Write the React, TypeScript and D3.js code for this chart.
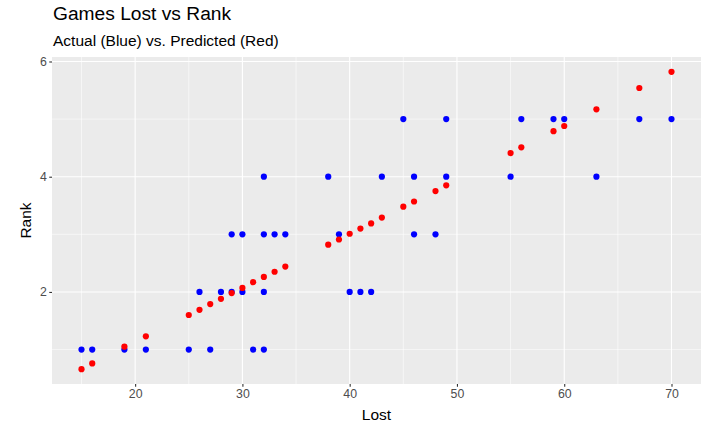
import * as d3 from 'd3';
import { useEffect, useRef } from 'react';

// Actual ranks (blue)
const actualLost = [
  15, 16, 19, 21, 25, 27, 31, 32,
  26, 28, 29, 30, 32, 40, 41, 42,
  29, 30, 32, 33, 34, 39, 46, 48,
  32, 38, 43, 46, 49, 55, 63,
  45, 49, 56, 59, 60, 67, 70,
];
const actualRank = [
  1, 1, 1, 1, 1, 1, 1, 1,
  2, 2, 2, 2, 2, 2, 2, 2,
  3, 3, 3, 3, 3, 3, 3, 3,
  4, 4, 4, 4, 4, 4, 4,
  5, 5, 5, 5, 5, 5, 5,
];

// Predicted ranks (red)
const predictedLost = [
  15, 16, 19, 21, 25, 26, 27, 28, 29, 30, 31, 32, 33, 34, 38, 39, 40, 41, 42, 43,
  45, 46, 48, 49, 55, 56, 59, 60, 63, 67, 70,
];
const predictedRank = [
  0.66, 0.76, 1.05, 1.23, 1.6, 1.69, 1.79, 1.88, 1.98, 2.07, 2.17, 2.26, 2.35, 2.44, 2.82, 2.91,
  3.01, 3.1, 3.19, 3.29, 3.48, 3.57, 3.75, 3.85, 4.41, 4.51, 4.79, 4.88, 5.17, 5.54, 5.82,
];

const xMajor = [20, 30, 40, 50, 60, 70];
const xMinor = [15, 25, 35, 45, 55, 65];
const yMajor = [2, 4, 6];
const yMinor = [1, 3, 5];

const W = 715;
const H = 429;
const margin = { top: 57, right: 14, bottom: 45, left: 52 };
const font = '"Liberation Sans", Arial, sans-serif';

export default function App() {
  const ref = useRef<SVGSVGElement>(null);

  useEffect(() => {
    if (!ref.current) return;
    const svg = d3.select(ref.current);
    svg.selectAll('*').remove();

    const allLost = actualLost.concat(predictedLost);
    const allRank = actualRank.concat(predictedRank);
    const [x0, x1] = d3.extent(allLost) as [number, number];
    const [y0, y1] = d3.extent(allRank) as [number, number];
    const xPad = (x1 - x0) * 0.05;
    const yPad = (y1 - y0) * 0.05;

    const x = d3
      .scaleLinear()
      .domain([x0 - xPad, x1 + xPad])
      .range([margin.left, W - margin.right]);
    const y = d3
      .scaleLinear()
      .domain([y0 - yPad, y1 + yPad])
      .range([H - margin.bottom, margin.top]);

    // panel background
    svg
      .append('rect')
      .attr('x', margin.left)
      .attr('y', margin.top)
      .attr('width', W - margin.left - margin.right)
      .attr('height', H - margin.top - margin.bottom)
      .attr('fill', '#EBEBEB');

    const grid = svg.append('g').attr('stroke', '#fff').attr('fill', 'none');
    grid
      .append('g')
      .selectAll('line')
      .data(xMinor)
      .join('line')
      .attr('x1', (d) => x(d))
      .attr('x2', (d) => x(d))
      .attr('y1', margin.top)
      .attr('y2', H - margin.bottom)
      .attr('stroke-width', 0.55);
    grid
      .append('g')
      .selectAll('line')
      .data(yMinor)
      .join('line')
      .attr('x1', margin.left)
      .attr('x2', W - margin.right)
      .attr('y1', (d) => y(d))
      .attr('y2', (d) => y(d))
      .attr('stroke-width', 0.55);
    grid
      .append('g')
      .selectAll('line')
      .data(xMajor)
      .join('line')
      .attr('x1', (d) => x(d))
      .attr('x2', (d) => x(d))
      .attr('y1', margin.top)
      .attr('y2', H - margin.bottom)
      .attr('stroke-width', 1.1);
    grid
      .append('g')
      .selectAll('line')
      .data(yMajor)
      .join('line')
      .attr('x1', margin.left)
      .attr('x2', W - margin.right)
      .attr('y1', (d) => y(d))
      .attr('y2', (d) => y(d))
      .attr('stroke-width', 1.1);

    // axes
    const xAxis = svg
      .append('g')
      .attr('transform', `translate(0,${H - margin.bottom})`)
      .call(
        d3.axisBottom(x).tickValues(xMajor).tickFormat(d3.format('d')).tickSize(2.75).tickPadding(2.5),
      );
    const yAxis = svg
      .append('g')
      .attr('transform', `translate(${margin.left},0)`)
      .call(
        d3.axisLeft(y).tickValues(yMajor).tickFormat(d3.format('d')).tickSize(2.75).tickPadding(2.5),
      );
    [xAxis, yAxis].forEach((a) => {
      a.select('.domain').remove();
      a.selectAll('line').attr('stroke', '#333333').attr('stroke-width', 1.1);
      a.selectAll('text')
        .attr('fill', '#4D4D4D')
        .style('font-family', font)
        .style('font-size', '12.3px');
    });

    // points
    svg
      .append('g')
      .selectAll('circle')
      .data(actualLost.map((v, i) => [v, actualRank[i]]))
      .join('circle')
      .attr('cx', (d) => x(d[0]))
      .attr('cy', (d) => y(d[1]))
      .attr('r', 3.1)
      .attr('fill', 'blue');
    svg
      .append('g')
      .selectAll('circle')
      .data(predictedLost.map((v, i) => [v, predictedRank[i]]))
      .join('circle')
      .attr('cx', (d) => x(d[0]))
      .attr('cy', (d) => y(d[1]))
      .attr('r', 3.1)
      .attr('fill', 'red');

    // titles
    svg
      .append('text')
      .attr('x', 53)
      .attr('y', 19.5)
      .style('font-family', font)
      .style('font-size', '19.2px')
      .attr('fill', '#000')
      .text('Games Lost vs Rank');
    svg
      .append('text')
      .attr('x', 53)
      .attr('y', 45.5)
      .style('font-family', font)
      .style('font-size', '15.5px')
      .attr('fill', '#000')
      .text('Actual (Blue) vs. Predicted (Red)');
    svg
      .append('text')
      .attr('x', (margin.left + W - margin.right) / 2)
      .attr('y', 420)
      .attr('text-anchor', 'middle')
      .style('font-family', font)
      .style('font-size', '15.5px')
      .attr('fill', '#000')
      .text('Lost');
    svg
      .append('text')
      .attr(
        'transform',
        `translate(30.5,${(margin.top + H - margin.bottom) / 2}) rotate(-90)`,
      )
      .attr('text-anchor', 'middle')
      .style('font-family', font)
      .style('font-size', '15.5px')
      .attr('fill', '#000')
      .text('Rank');
  }, []);

  return (
    <svg
      ref={ref}
      width={W}
      height={H}
      style={{ position: 'fixed', left: 0, top: 0, background: '#fff' }}
    />
  );
}
